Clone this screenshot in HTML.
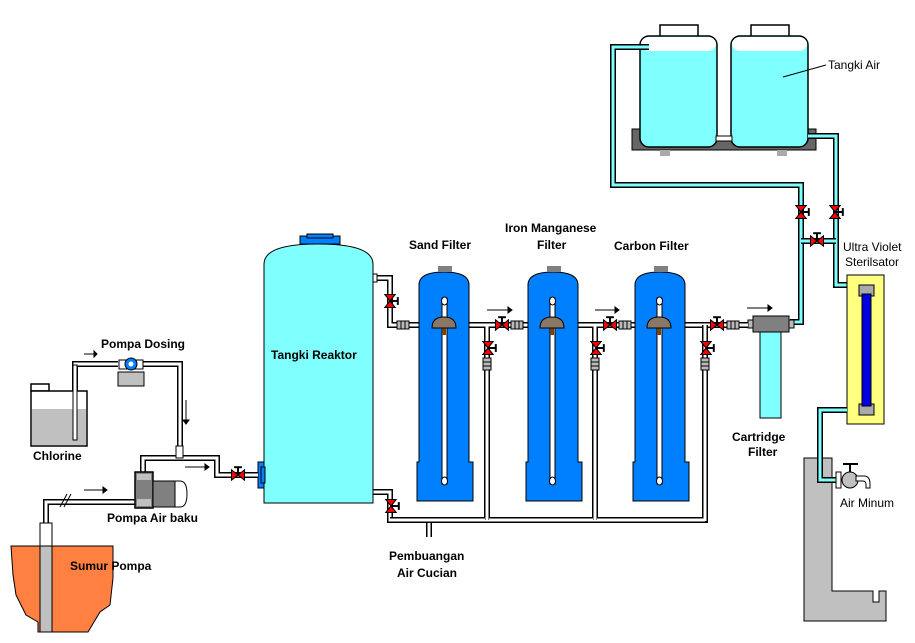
<!DOCTYPE html>
<html><head><meta charset="utf-8"><style>
html,body{margin:0;padding:0;background:#fff;}
svg{display:block;}
text{font-family:"Liberation Sans",Arial,sans-serif;}
.b{font-weight:bold;font-size:12px;}
.n{font-size:12px;}
</style></head><body>
<svg width="915" height="643" viewBox="0 0 915 643" xmlns="http://www.w3.org/2000/svg">
<defs>
<g id="valveV"><g transform="scale(1.3)"><polygon points="-4,-5 4,-5 0,0" fill="#f00" stroke="#000" stroke-width="0.8"/><polygon points="-4,5 4,5 0,0" fill="#f00" stroke="#000" stroke-width="0.8"/><line x1="0" y1="0" x2="6" y2="0" stroke="#000" stroke-width="1.5"/><line x1="6" y1="-3" x2="6" y2="3" stroke="#000" stroke-width="1.5"/></g></g>
<g id="valveH"><g transform="scale(1.3)"><polygon points="-5,-4 -5,4 0,0" fill="#f00" stroke="#000" stroke-width="0.8"/><polygon points="5,-4 5,4 0,0" fill="#f00" stroke="#000" stroke-width="0.8"/><line x1="0" y1="0" x2="0" y2="-6" stroke="#000" stroke-width="1.5"/><line x1="-3" y1="-6" x2="3" y2="-6" stroke="#000" stroke-width="1.5"/></g></g>
<g id="unionH"><rect x="-6" y="-4" width="12" height="8" fill="#bbb" stroke="#000"/><line x1="-2" y1="-4" x2="-2" y2="4" stroke="#000"/><line x1="2" y1="-4" x2="2" y2="4" stroke="#000"/></g>
<g id="unionV"><rect x="-4" y="-6" width="8" height="12" fill="#bbb" stroke="#000"/><line x1="-4" y1="-2" x2="4" y2="-2" stroke="#000"/><line x1="-4" y1="2" x2="4" y2="2" stroke="#000"/></g>
</defs>

<rect x="660" y="25" width="38" height="12" fill="#fff" stroke="#000" stroke-width="1.5"/>
<rect x="751" y="25" width="38" height="12" fill="#fff" stroke="#000" stroke-width="1.5"/>
<path d="M632,129 h8 v12 h168 v-12 h8 v21 h-184z" fill="#666" stroke="#000"/>
<rect x="660" y="150" width="10" height="6" fill="#aaa"/><rect x="777" y="150" width="10" height="6" fill="#aaa"/>
<rect x="640" y="36" width="77" height="111" rx="9" fill="#80ffff" stroke="#000" stroke-width="1.5"/>
<rect x="641" y="37" width="75" height="14" rx="8" fill="#fff"/>
<rect x="731" y="36" width="77" height="111" rx="9" fill="#80ffff" stroke="#000" stroke-width="1.5"/>
<rect x="732" y="37" width="75" height="14" rx="8" fill="#fff"/>
<rect x="716" y="136" width="16" height="5" fill="#fff" stroke="#000"/>
<line x1="783" y1="77" x2="826" y2="65" stroke="#000"/>
<text x="828" y="69" class="n">Tangki Air</text>

<g fill="none" stroke-linejoin="miter">
<path d="M649,47 H613 V185 H801 V322 H790" stroke="#000" stroke-width="6"/>
<path d="M649,47 H613 V185 H801 V322 H790" stroke="#80ffff" stroke-width="3"/>
<path d="M808,136 H836 V285 H847" stroke="#000" stroke-width="6"/>
<path d="M808,136 H836 V285 H847" stroke="#80ffff" stroke-width="3"/>
<path d="M801,241 H836" stroke="#000" stroke-width="6"/>
<path d="M801,241 H836" stroke="#80ffff" stroke-width="3"/>
</g>
<use href="#valveV" x="801" y="212"/><use href="#valveV" x="835" y="212"/><use href="#valveH" x="817" y="241"/>

<text x="843" y="251" class="n">Ultra Violet</text>
<text x="845" y="266" class="n">Sterilsator</text>
<rect x="847" y="275" width="37" height="149" fill="#ffff80" stroke="#000"/>
<rect x="859" y="285" width="15" height="11" fill="#aaa" stroke="#000"/>
<rect x="859" y="404" width="15" height="11" fill="#aaa" stroke="#000"/>
<rect x="862" y="294" width="9" height="112" fill="#0000e0" stroke="#000"/>

<path d="M804,458 H832 V591 H873 V602 H879 V591 H886 V621 H804 Z" fill="#c0c0c0" stroke="#000"/>
<path d="M847,410 H820 V480 H836" fill="none" stroke="#000" stroke-width="6"/>
<path d="M847,410 H820 V480 H836" fill="none" stroke="#80ffff" stroke-width="3"/>
<rect x="836" y="472" width="5" height="16" fill="#fff" stroke="#000"/>
<circle cx="850" cy="480" r="8" fill="#c0c0c0" stroke="#000"/>
<path d="M856,476 h8 q6,0 6,8 v4 h-4 v-3 q0,-4 -3,-4 h-7z" fill="#fff" stroke="#000"/>
<line x1="850" y1="472" x2="850" y2="465" stroke="#000" stroke-width="2"/><line x1="843" y1="464" x2="858" y2="464" stroke="#000" stroke-width="2"/>
<text x="840" y="507" class="n">Air Minum</text>

<rect x="760" y="332" width="21" height="86" fill="#80ffff" stroke="#000"/>
<rect x="753" y="316" width="36" height="16" fill="#808080" stroke="#000"/>
<rect x="748" y="320" width="5" height="8" fill="#bbb" stroke="#000"/>
<rect x="789" y="320" width="5" height="8" fill="#bbb" stroke="#000"/>
<text x="732" y="441" class="b">Cartridge</text>
<text x="748" y="456" class="b">Filter</text>

<g fill="none">
<path d="M373,278 H390 V325 H748 M487,325 V520 M595,325 V520 M705,325 V520 M373,492 H390 V520 H705 M429,520 V537" stroke="#000" stroke-width="6"/>
<path d="M373,278 H390 V325 H748 M487,325 V520 M595,325 V520 M705,325 V520 M373,492 H390 V520 H705 M429,520 V537" stroke="#fff" stroke-width="3"/>
<path d="M487,330 V520 M595,330 V520" stroke="#000" stroke-width="6"/>
</g>
<g fill="none">
<path d="M390,520 H485 M489,520 H593 M597,520 H705 V325" stroke="#000" stroke-width="6"/>
<path d="M390,520 H485 M489,520 H593 M597,520 H705" stroke="#fff" stroke-width="3"/>
<path d="M487,325 V521 M595,325 V521 M705,325 V521" stroke="#fff" stroke-width="3"/>
</g>

<g id="f1">
<path d="M419,285 Q419,272 444,272 Q469,272 469,285 V462 H473 V501 H417 V462 H419 Z" fill="#0080ff" stroke="#000"/>
<rect x="438" y="266" width="14" height="6" fill="#808080"/>
</g>
<use href="#f1" x="109"/><use href="#f1" x="216"/>
<g id="tube">
<rect x="442" y="298" width="5" height="186" fill="#fff" stroke="#000"/>
<ellipse cx="444.5" cy="301" rx="3" ry="4" fill="#fff" stroke="#000"/>
<ellipse cx="444.5" cy="481" rx="3" ry="4" fill="#fff" stroke="#000"/>
<rect x="442" y="327" width="4" height="8" fill="#804000"/>
<path d="M432,328 Q432,317 444,317 Q456,317 456,328 Z" fill="#8b7765" stroke="#000"/>
</g>
<use href="#tube" x="108"/><use href="#tube" x="215"/>

<use href="#valveV" x="390" y="301"/>
<use href="#unionH" x="403" y="325"/>
<use href="#valveH" x="502" y="325"/><use href="#unionH" x="517" y="325"/>
<use href="#valveH" x="610" y="325"/><use href="#unionH" x="625" y="325"/>
<use href="#valveH" x="717" y="325"/><use href="#unionH" x="733" y="325"/>
<use href="#valveV" x="488" y="348"/><use href="#unionV" x="487" y="364"/>
<use href="#valveV" x="596" y="348"/><use href="#unionV" x="595" y="364"/>
<use href="#valveV" x="706" y="348"/><use href="#unionV" x="705" y="364"/>
<use href="#valveV" x="391" y="506"/>

<text x="409" y="249" class="b">Sand Filter</text>
<text x="505" y="232" class="b">Iron Manganese</text>
<text x="537" y="249" class="b">Filter</text>
<text x="614" y="250" class="b">Carbon Filter</text>
<text x="389" y="560" class="b">Pembuangan</text>
<text x="397" y="577" class="b">Air Cucian</text>

<g stroke="#000" fill="#000">
<line x1="487" y1="310" x2="508" y2="310"/><polygon points="508,307 512,310 508,313"/>
<line x1="595" y1="310" x2="615" y2="310"/><polygon points="615,307 619,310 615,313"/>
<line x1="747" y1="308" x2="768" y2="308"/><polygon points="768,305 772,308 768,311"/>
<line x1="84" y1="354" x2="94" y2="354"/><polygon points="94,351 97,354 94,357"/>
<line x1="186" y1="400" x2="186" y2="420"/><polygon points="183,420 186,424 189,420"/>
<line x1="185" y1="467" x2="205" y2="467"/><polygon points="205,464 209,467 205,470"/>
<line x1="84" y1="490" x2="103" y2="490"/><polygon points="103,487 107,490 103,493"/>
</g>

<rect x="300" y="236" width="40" height="8" fill="#0080ff" stroke="#000"/>
<rect x="307" y="234" width="26" height="4" fill="#0080ff" stroke="#000"/>
<path d="M264,264 Q264,244 318,244 Q373,244 373,264 V503 H264 Z" fill="#80ffff" stroke="#000"/>
<rect x="258" y="462" width="6" height="26" fill="#0080ff" stroke="#000"/>
<rect x="261" y="467" width="4" height="16" fill="#0080ff" stroke="#000"/>
<rect x="373" y="274" width="4" height="8" fill="#fff" stroke="#000"/>
<text x="271" y="359" class="b">Tangki Reaktor</text>

<g fill="none">
<path d="M75,440 V364 H118 M140,364 H180 V450 M180,450 V458 H143 V472 M180,458 H217 V475 H258 M135,502 H46 V582" stroke="#000" stroke-width="6"/>
<path d="M75,440 V364 H118 M140,364 H180 V450 M180,450 V458 H143 V472 M180,458 H217 V475 H258 M135,502 H46 V582" stroke="#fff" stroke-width="3"/>
</g>
<rect x="176" y="446" width="7" height="12" fill="#fff" stroke="#000"/>
<line x1="60" y1="507" x2="67" y2="494" stroke="#000"/><line x1="64" y1="507" x2="71" y2="494" stroke="#000"/>
<use href="#valveH" x="238" y="475"/>

<rect x="31" y="384" width="18" height="7" fill="#fff" stroke="#000" stroke-width="1.5"/>
<rect x="31" y="391" width="56" height="55" fill="#fff" stroke="#000" stroke-width="1.5"/>
<rect x="32" y="409" width="54" height="36" fill="#c0c0c0"/>
<rect x="73" y="365" width="4" height="75" fill="#fff" stroke="#000"/>
<text x="33" y="460" class="b">Chlorine</text>

<rect x="119" y="360" width="24" height="9" fill="#fff" stroke="#000"/>
<circle cx="131" cy="364" r="6" fill="#0080ff" stroke="#000"/>
<circle cx="131" cy="364" r="2.5" fill="#fff"/>
<rect x="118" y="372" width="26" height="14" fill="#c0c0c0" stroke="#000"/>
<text x="101" y="348" class="b">Pompa Dosing</text>

<rect x="135" y="472" width="18" height="36" fill="#808080" stroke="#000" stroke-width="1.5"/>
<rect x="137" y="474" width="14" height="6" fill="#c0c0c0"/>
<rect x="137" y="499" width="14" height="7" fill="#c0c0c0"/>
<rect x="153" y="481" width="22" height="26" fill="#808080" stroke="#000"/>
<path d="M175,481 h5 q7,0 7,13 q0,13 -7,13 h-5z" fill="#fff" stroke="#000"/>
<text x="107" y="522" class="b">Pompa Air baku</text>

<path d="M11,546 H113 V578 L110,605 L100,612 L88,632 H38 V622 L26,615 L16,595 L13,575 Z" fill="#ff8040" stroke="#000"/>
<rect x="40" y="523" width="12" height="23" fill="#fff" stroke="#000"/>
<rect x="40" y="546" width="12" height="86" fill="#c0c0c0" stroke="#000"/>
<text x="70" y="570" class="b">Sumur Pompa</text>
</svg>
</body></html>
